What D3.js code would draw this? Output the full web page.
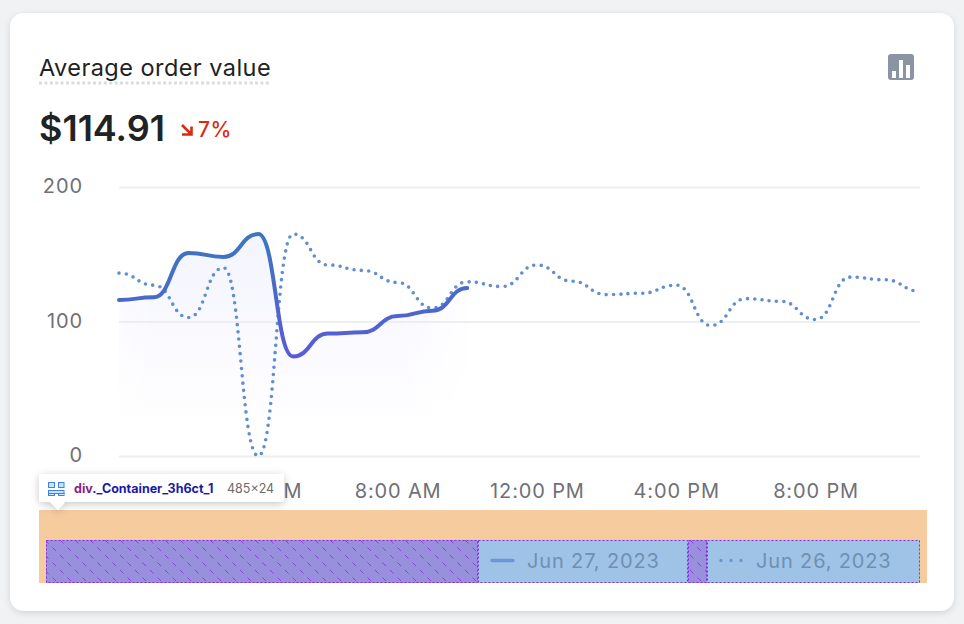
<!DOCTYPE html>
<html><head><meta charset="utf-8">
<script src="https://cdn.jsdelivr.net/npm/d3@7"></script>
<style>
html,body{margin:0;padding:0;background:#f1f2f4;overflow:hidden}
svg{display:block}
text{font-family:Inter,"Noto Sans",sans-serif}
</style></head><body><svg id="c" width="964" height="624"></svg>
<script>
const hours=[0,1,2,3,4,5,6,7,8,9,10,11,12,13,14,15,16,17,18,19,20,21,22,23];
const jun27=[116,118,151,148,165,74,91,92,104,108,125];
const jun26=[136,127,103,140,0,165,142,138,129,110,129.5,126,142,130,120,121,127,97,117,115,101.5,133,131,122.5];
const yTicks=[0,100,200];
const xTickHours=[0,4,8,12,16,20];
const xTickLabels=["12:00 AM","4:00 AM","8:00 AM","12:00 PM","4:00 PM","8:00 PM"];
const legendLabels=["Jun 27, 2023","Jun 26, 2023"];

const svg=d3.select("#c");
const defs=svg.append("defs");
const sh=defs.append("filter").attr("id","cardShadow").attr("x","-5%").attr("y","-5%").attr("width","110%").attr("height","110%");
sh.append("feDropShadow").attr("dx",0).attr("dy",2).attr("stdDeviation",3).attr("flood-color","#000").attr("flood-opacity",0.13);
const ts=defs.append("filter").attr("id","tipShadow").attr("x","-10%").attr("y","-30%").attr("width","120%").attr("height","170%");
ts.append("feDropShadow").attr("dx",0).attr("dy",2).attr("stdDeviation",4).attr("flood-color","#000").attr("flood-opacity",0.22);
const sg=defs.append("linearGradient").attr("id","strokeG").attr("gradientUnits","userSpaceOnUse").attr("x1",0).attr("x2",0).attr("y1",234).attr("y2",356);
sg.append("stop").attr("offset",0).attr("stop-color","#3a78bd");
sg.append("stop").attr("offset",1).attr("stop-color","#5a5bd8");
const ag=defs.append("linearGradient").attr("id","areaG").attr("gradientUnits","userSpaceOnUse").attr("x1",0).attr("x2",0).attr("y1",234).attr("y2",430);
ag.append("stop").attr("offset",0).attr("stop-color","#f3f4fd");
ag.append("stop").attr("offset",0.55).attr("stop-color","#fafaff");
ag.append("stop").attr("offset",1).attr("stop-color","#fff");
const hf=defs.append("linearGradient").attr("id","fadeH");
[[0,0.5],[0.1,1],[0.8,1],[0.92,0.4],[1,0.1]].forEach(s=>hf.append("stop").attr("offset",s[0]).attr("stop-color","#fff").attr("stop-opacity",s[1]));
const mk=defs.append("mask").attr("id","areaMask").attr("maskUnits","userSpaceOnUse").attr("x",119).attr("y",220).attr("width",350).attr("height",240);
mk.append("rect").attr("x",119).attr("y",220).attr("width",349).attr("height",240).attr("fill","url(#fadeH)");
const hp=defs.append("pattern").attr("id","hatch").attr("patternUnits","userSpaceOnUse").attr("width",15).attr("height",15);
hp.append("rect").attr("width",15).attr("height",15).attr("fill","#988fdd");
hp.append("path").attr("d","M0 0L15 15").attr("stroke","#8a44dc").attr("stroke-width",1).attr("stroke-dasharray","5 5.6");

svg.append("rect").attr("x",10).attr("y",13).attr("width",944).attr("height",598).attr("rx",14).attr("fill","#fff").attr("filter","url(#cardShadow)");

svg.append("text").attr("x",39).attr("y",76).attr("font-size",23.5).attr("letter-spacing",0.45).attr("fill","#202223").text("Average order value");
svg.append("line").attr("x1",39).attr("x2",270).attr("y1",83).attr("y2",83).attr("stroke","#d9dde2").attr("stroke-width",3).attr("stroke-dasharray","3 2.4");
svg.append("text").attr("x",39).attr("y",141).attr("font-size",36).attr("font-weight",600).attr("fill","#202223").text("$114.91");
svg.append("path").attr("d","M182 125L190.5 133.5M191.5 126.5V134.5H182").attr("fill","none").attr("stroke","#d82c0d").attr("stroke-width",2.6);
svg.append("text").attr("x",198).attr("y",137).attr("font-size",21).attr("font-weight",500).attr("letter-spacing",0.4).attr("fill","#d82c0d").text("7%");

const icon=svg.append("g");
icon.append("rect").attr("x",888).attr("y",54).attr("width",26).attr("height",26).attr("rx",3).attr("fill","#8a94a3");
[[892,71,4,8],[899,60,4,19],[906,65,4,14]].forEach(b=>icon.append("rect").attr("x",b[0]).attr("y",b[1]).attr("width",b[2]).attr("height",b[3]-1).attr("fill","#fff"));

const x=d3.scaleLinear().domain([0,23]).range([119,920]);
const y=d3.scaleLinear().domain([0,200]).range([456,187]);

const gy=svg.append("g").attr("transform","translate(119,0)").call(d3.axisLeft(y).tickValues(yTicks).tickSize(-801).tickPadding(36).tickFormat(d3.format("d")));
gy.select(".domain").remove();
gy.selectAll("line").attr("stroke","#edeef0").attr("stroke-width",2);
gy.selectAll("text").attr("font-size",20).attr("letter-spacing",0.9).attr("fill","#6f7078").attr("font-family","Inter,sans-serif").attr("dy","0.28em");

const gx=svg.append("g").attr("transform","translate(0,456)").call(d3.axisBottom(x).tickValues(xTickHours).tickSize(0).tickPadding(28).tickFormat((d,i)=>xTickLabels[i]));
gx.select(".domain").remove();
gx.selectAll("text").attr("font-size",20).attr("letter-spacing",0.85).attr("fill","#6f7078").attr("font-family","Inter,sans-serif");

const area=d3.area().x((d,i)=>x(hours[i])).y0(y(0)-30).y1(d=>y(d)).curve(d3.curveBumpX);
const line=d3.line().x((d,i)=>x(hours[i])).y(d=>y(d)).curve(d3.curveBumpX);
svg.append("path").datum(jun27).attr("d",area).attr("fill","url(#areaG)").attr("mask","url(#areaMask)");
gy.raise();
gx.raise();
svg.append("path").datum(jun26).attr("d",line).attr("fill","none").attr("stroke","#5f8fd0").attr("stroke-width",3.6).attr("stroke-linecap","round").attr("stroke-dasharray","0 7.3");
svg.append("path").datum(jun27).attr("d",line).attr("fill","none").attr("stroke","url(#strokeG)").attr("stroke-width",4).attr("stroke-linecap","round").attr("stroke-linejoin","round");

// inspector overlay
svg.append("rect").attr("x",39).attr("y",510).attr("width",888).attr("height",73).attr("fill","#f6cb9e");
const row=svg.append("g");
[[478,210],[707,213]].forEach(r=>row.append("rect").attr("x",r[0]).attr("y",540).attr("width",r[1]).attr("height",43).attr("fill","#9fc3e6"));
[[46,432],[688,19]].forEach(r=>row.append("rect").attr("x",r[0]).attr("y",540).attr("width",r[1]).attr("height",43).attr("fill","url(#hatch)"));
[[46,432],[478,210],[688,19],[707,213]].forEach(r=>row.append("rect").attr("x",r[0]+.5).attr("y",540.5).attr("width",r[1]-1).attr("height",42).attr("fill","none").attr("stroke","#8a2be2").attr("stroke-width",1).attr("stroke-dasharray","2 2"));
row.append("line").attr("x1",492).attr("x2",513).attr("y1",560.5).attr("y2",560.5).attr("stroke","#6d96d8").attr("stroke-width",3.4).attr("stroke-linecap","round");
row.append("line").attr("x1",721).attr("x2",742).attr("y1",560.5).attr("y2",560.5).attr("stroke","#6a96cf").attr("stroke-width",3.4).attr("stroke-linecap","round").attr("stroke-dasharray","0 10");
row.append("text").attr("x",527).attr("y",568).attr("font-size",20).attr("letter-spacing",0.85).attr("fill","#6f8fb3").text(legendLabels[0]);
row.append("text").attr("x",756).attr("y",568).attr("font-size",20).attr("letter-spacing",0.85).attr("fill","#6f8fb3").text(legendLabels[1]);

const tip=svg.append("g").attr("filter","url(#tipShadow)");
tip.append("path").attr("d","M42 474H281a3 3 0 0 1 3 3V499a3 3 0 0 1 -3 3H65L58 510L50 502H42a3 3 0 0 1 -3 -3V477a3 3 0 0 1 3 -3Z").attr("fill","#fff");
const ti=svg.append("g").attr("fill","#cfe2fb").attr("stroke","#3b82f0").attr("stroke-width",1);
[[48.5,482.5,6,5],[58.5,482.5,5.5,5],[48.5,490.5,15.5,3],[48.5,493.5,6,2],[58.5,493.5,5.5,2]].forEach(r=>ti.append("rect").attr("x",r[0]).attr("y",r[1]).attr("width",r[2]).attr("height",r[3]));
const tt=svg.append("text").attr("x",74).attr("y",493).attr("font-size",12.5).attr("font-weight",700).attr("font-family","Roboto,Inter,sans-serif");
tt.append("tspan").attr("fill","#8b1a8b").text("div");
tt.append("tspan").attr("fill","#1a1aa6").text("._Container_3h6ct_1");
svg.append("text").attr("x",227).attr("y",493).attr("font-size",12.5).attr("fill","#6b6b6b").attr("font-family","Roboto,Inter,sans-serif").text("485×24");
</script></body></html>
